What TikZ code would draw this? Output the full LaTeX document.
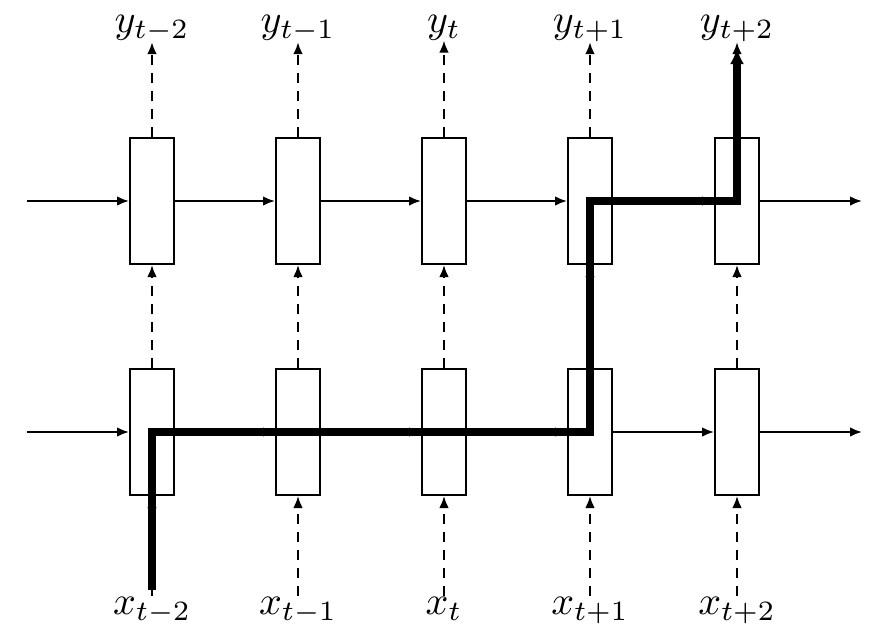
\documentclass[tikz,border=0pt]{standalone}
\usetikzlibrary{arrows.meta}
\begin{document}
\begin{tikzpicture}[x=0.25pt,y=-0.25pt,
  cell/.style={draw,line width=0.5pt,minimum width=11pt,minimum height=31.5pt,inner sep=0pt,fill=white},
  conn/.style={line width=0.5pt,-{Latex[length=3pt,width=2.4pt]}},
  dconn/.style={conn,dashed,dash pattern=on 2.5pt off 2pt},
  lab/.style={inner sep=0pt}]
\useasboundingbox (0,0) rectangle (878,634);
\foreach \i/\x/\s in {1/152/{t-2},2/298/{t-1},3/444/{t},4/590/{t+1},5/737/{t+2}}{
  \node[cell] (u\i) at (\x,201) {};
  \node[cell] (d\i) at (\x,432) {};
  \node[lab,anchor=base] (y\i) at (\x,32) {$y_{\s}$};
  \node[lab,anchor=base] (x\i) at (\x,614) {$x_{\s}$};
  \draw[dconn] (x\i) -- (d\i);
  \draw[dconn] (d\i) -- (u\i);
  \draw[dconn] (u\i) -- (y\i);
}
\coordinate (ul) at (27,201); \coordinate (dl) at (27,432);
\coordinate (ur) at (862,201); \coordinate (dr) at (862,432);
\draw[conn] (ul) -- (u1); \draw[conn] (dl) -- (d1);
\draw[conn] (u5) -- (ur); \draw[conn] (d5) -- (dr);
\foreach \a/\b in {1/2,2/3,3/4,4/5}{
  \draw[conn] (u\a) -- (u\b); \draw[conn] (d\a) -- (d\b);
}
\coordinate (s) at (152,590); \coordinate (e) at (737,48);
\draw[line width=1.8pt,-{Latex[length=4pt,width=3.5pt]}] (s) -- (d1.center) -| (d4.center) -- (d4.center |- u4.center) -| (e);
\end{tikzpicture}
\end{document}
